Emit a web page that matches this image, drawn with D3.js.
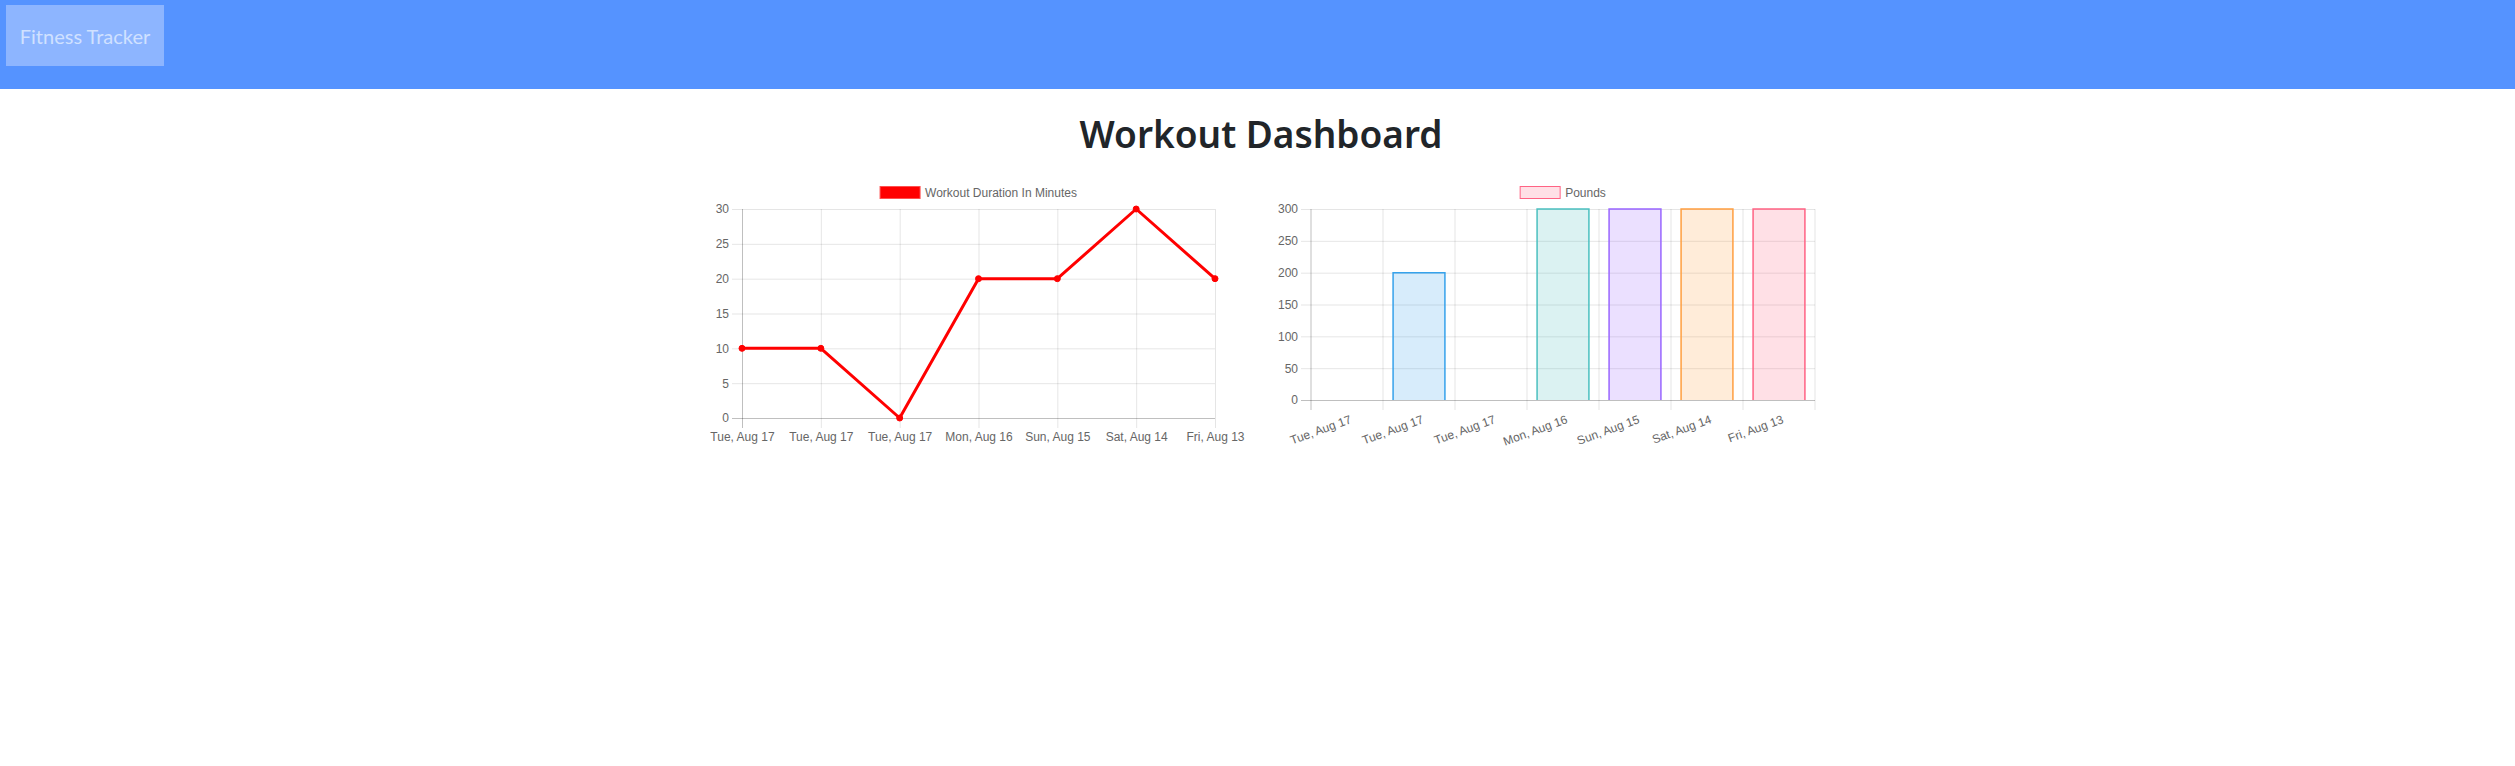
<!DOCTYPE html>
<html>
<head>
<meta charset="utf-8">
<script src="https://cdn.jsdelivr.net/npm/d3@7"></script>
<style>
  html, body { margin: 0; padding: 0; background: #fff; }
  svg { display: block; }
  .axis text { font-family: "Liberation Sans", Arial, sans-serif; font-size: 12px; fill: #666; }
</style>
</head>
<body>
<svg id="page" width="2515" height="766"></svg>
<script>
// workout log, newest first
var dates = ["Tue, Aug 17", "Tue, Aug 17", "Tue, Aug 17", "Mon, Aug 16", "Sun, Aug 15", "Sat, Aug 14", "Fri, Aug 13"];
var durations = [10, 10, 0, 20, 20, 30, 20];
var pounds = [0, 200, 0, 300, 300, 300, 300];
var durationTicks = [0, 5, 10, 15, 20, 25, 30];
var poundTicks = [0, 50, 100, 150, 200, 250, 300];
var barFills = ["rgba(255,99,132,0.2)", "rgba(54,162,235,0.2)", "rgba(255,206,86,0.2)", "rgba(75,192,192,0.2)",
    "rgba(153,102,255,0.2)", "rgba(255,159,64,0.2)", "rgba(255,99,132,0.2)"];
var barStrokes = ["rgba(255,99,132,1)", "rgba(54,162,235,1)", "rgba(255,206,86,1)", "rgba(75,192,192,1)",
    "rgba(153,102,255,1)", "rgba(255,159,64,1)", "rgba(255,99,132,1)"];

var svg = d3.select("#page");
var gridColor = "rgba(0,0,0,0.1)";
var zeroColor = "rgba(0,0,0,0.25)";

// navbar
svg.append("rect").attr("x", 0).attr("y", 0).attr("width", 2515).attr("height", 89).attr("fill", "#5593ff");
svg.append("rect").attr("x", 6).attr("y", 5).attr("width", 158).attr("height", 61).attr("fill", "#8db5ff");
svg.append("text")
    .attr("x", 85).attr("y", 44)
    .attr("text-anchor", "middle")
    .style("font-family", "Lato, 'Open Sans', sans-serif")
    .style("font-size", "20px")
    .style("fill", "#d0e1ff")
    .text("Fitness Tracker");

svg.append("text")
    .attr("x", 1261).attr("y", 148)
    .attr("text-anchor", "middle")
    .style("font-family", "'Noto Sans', 'Open Sans', sans-serif")
    .style("font-size", "37px")
    .style("font-weight", 600)
    .style("fill", "#212529")
    .text("Workout Dashboard");

// shared: legend + y gridlines/axis
function legend(cx, label, fill, stroke) {
    var g = svg.append("g").attr("class", "axis");
    var t = g.append("text").attr("y", 197).text(label);
    var w = t.node().getComputedTextLength();
    var total = 40 + 5 + w;
    var x0 = cx - total / 2;
    g.insert("rect", "text")
        .attr("x", x0).attr("y", 186.5).attr("width", 40).attr("height", 12)
        .attr("fill", fill).attr("stroke", stroke).attr("stroke-width", 1);
    t.attr("x", x0 + 45);
}

function yAxis(g, y, ticks, width) {
    var ax = g.append("g").attr("class", "axis")
        .call(d3.axisLeft(y).tickValues(ticks).tickSize(0).tickPadding(13));
    ax.select(".domain").remove();
    ax.selectAll(".tick line")
        .attr("x1", -10).attr("x2", width)
        .attr("stroke", function (d) { return d === 0 ? zeroColor : gridColor; });
    return ax;
}

// ---- line chart: workout duration ----
var lm = { left: 742, top: 209, width: 473, height: 209 };
var lg = svg.append("g").attr("transform", "translate(" + lm.left + "," + lm.top + ")");
var lx = d3.scalePoint().domain(d3.range(dates.length)).range([0, lm.width]);
var ly = d3.scaleLinear().domain([0, 30]).range([lm.height, 0]);

var lxAxis = lg.append("g").attr("class", "axis")
    .attr("transform", "translate(0," + lm.height + ")")
    .call(d3.axisBottom(lx).tickSize(0).tickPadding(14).tickFormat(function (i) { return dates[i]; }));
lxAxis.select(".domain").remove();
lxAxis.selectAll(".tick line")
    .attr("y1", 10).attr("y2", -lm.height)
    .attr("stroke", function (d) { return d === 0 ? zeroColor : gridColor; });
yAxis(lg, ly, durationTicks, lm.width);

lg.append("path")
    .datum(durations)
    .attr("fill", "none")
    .attr("stroke", "red")
    .attr("stroke-width", 3)
    .attr("stroke-linejoin", "round")
    .attr("d", d3.line().x(function (d, i) { return lx(i); }).y(function (d) { return ly(d); }));
lg.selectAll("circle.pt").data(durations).enter().append("circle")
    .attr("class", "pt")
    .attr("cx", function (d, i) { return lx(i); })
    .attr("cy", function (d) { return ly(d); })
    .attr("r", 3)
    .attr("fill", "red").attr("stroke", "red").attr("stroke-width", 1);

legend(lm.left + lm.width / 2, "Workout Duration In Minutes", "red", "rgba(255,80,80,1)");

// ---- bar chart: pounds ----
var bm = { left: 1311, top: 209, width: 504, height: 191 };
var bg = svg.append("g").attr("transform", "translate(" + bm.left + "," + bm.top + ")");
var bx = d3.scaleBand().domain(d3.range(dates.length)).range([0, bm.width]);
var by = d3.scaleLinear().domain([0, 300]).range([bm.height, 0]);

// labels are rotated, ending at the band centre
var bxAxis = bg.append("g").attr("class", "axis")
    .attr("transform", "translate(0," + bm.height + ")")
    .call(d3.axisBottom(bx).tickSize(0).tickFormat(function (i) { return dates[i]; }));
bxAxis.select(".domain").remove();
bxAxis.selectAll(".tick line").remove();
bxAxis.selectAll(".tick text")
    .attr("text-anchor", "end")
    .attr("dy", "0.32em")
    .attr("y", 0)
    .attr("transform", "translate(4,19) rotate(-20)");
// vertical gridlines sit between categories
bg.append("g").selectAll("line")
    .data(d3.range(dates.length + 1))
    .enter().append("line")
    .attr("x1", function (i) { return i * bx.step(); })
    .attr("x2", function (i) { return i * bx.step(); })
    .attr("y1", 0).attr("y2", bm.height + 10)
    .attr("stroke", function (i) { return i === 0 ? zeroColor : gridColor; });
yAxis(bg, by, poundTicks, bm.width);

var barW = bx.bandwidth() * 0.72;
var bars = bg.selectAll("g.bar").data(pounds).enter().append("g").attr("class", "bar");
bars.append("rect")
    .attr("x", function (d, i) { return bx(i) + (bx.bandwidth() - barW) / 2; })
    .attr("y", function (d) { return by(d); })
    .attr("width", barW)
    .attr("height", function (d) { return bm.height - by(d); })
    .attr("fill", function (d, i) { return barFills[i]; });
bars.append("path")
    .attr("fill", "none")
    .attr("stroke-width", 1.5)
    .attr("stroke", function (d, i) { return barStrokes[i]; })
    .attr("d", function (d, i) {
        if (d === 0) return null;
        var x0 = bx(i) + (bx.bandwidth() - barW) / 2, x1 = x0 + barW;
        return "M" + x0 + "," + bm.height + "V" + by(d) + "H" + x1 + "V" + bm.height;
    });

legend(bm.left + bm.width / 2, "Pounds", "rgba(255,99,132,0.2)", "rgba(255,99,132,1)");
</script>
</body>
</html>
